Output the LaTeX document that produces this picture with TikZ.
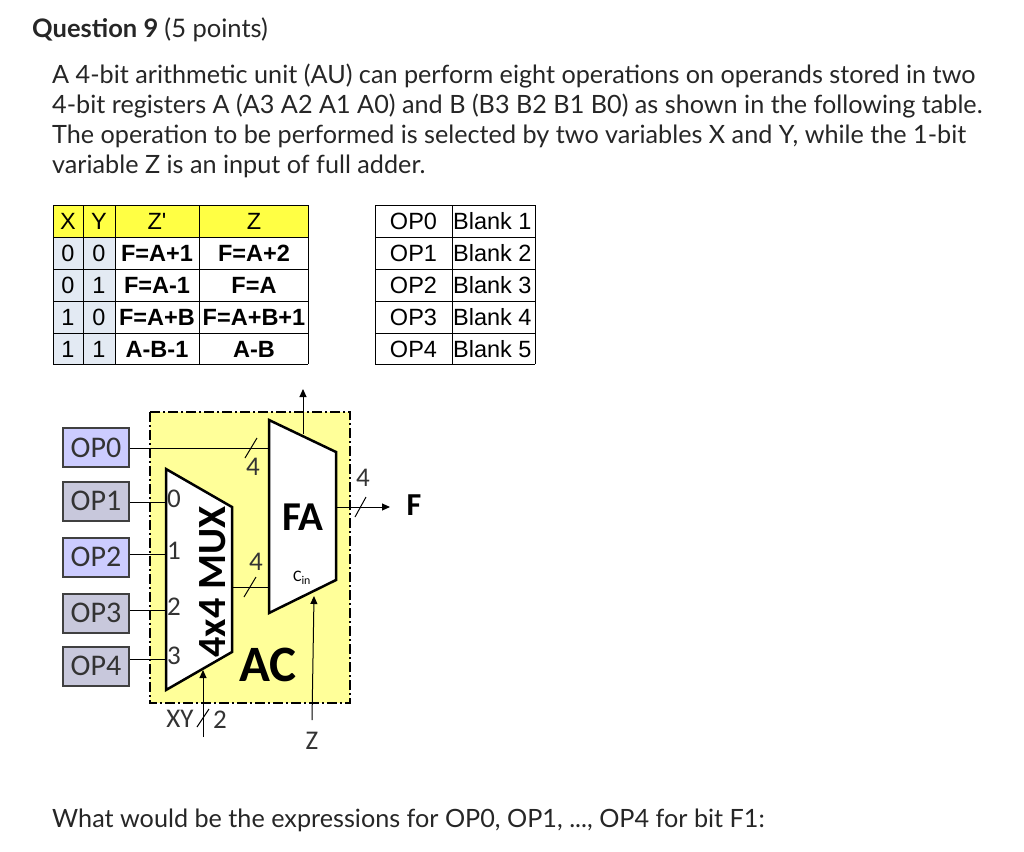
\documentclass[tikz,border=0pt]{standalone}
\usepackage{fontspec}
\setmainfont{Lato}
\newfontfamily\arial{Liberation Sans}
\newfontfamily\carl{Carlito}
\usetikzlibrary{arrows.meta}
\definecolor{yel}{HTML}{FFFF99}
\definecolor{hdr}{HTML}{FFFF44}
\definecolor{xyb}{HTML}{E3EAF3}
\definecolor{opa}{HTML}{CCCCFF}
\definecolor{opb}{HTML}{C8C8DC}
\begin{document}
\begin{tikzpicture}[x=1pt,y=-1pt,
  txt/.style={anchor=west,inner sep=0,font=\fontsize{25.2}{30}\selectfont,text=black!85},
  ct/.style={font=\arial\fontsize{23.5}{26}\selectfont},
  cb/.style={font=\arial\bfseries\fontsize{23.5}{26}\selectfont},
  op/.style={draw=black!75,line width=2pt,minimum width=66pt,minimum height=39pt,inner sep=0,font=\carl\fontsize{30}{32}\selectfont,text=black!80},
  w/.style={line width=1pt},
  arr/.style={w,-{Triangle[length=8pt,width=7pt]}},
  lbl/.style={font=\carl\fontsize{27}{29}\selectfont,inner sep=0,text=black!80},
  ]
\useasboundingbox (0,0) rectangle (1024,851);
\fill[white] (0,0) rectangle (1024,851);
\node[txt,font=\bfseries\fontsize{25.5}{30}\selectfont] (title) at (32,30) {Question 9 \mdseries(5 points)};
\node[txt] (l1) at (52,76) {A 4-bit arithmetic unit (AU) can perform eight operations on operands stored in two};
\node[txt] (l2) at (52,106) {4-bit registers A (A3 A2 A1 A0) and B (B3 B2 B1 B0) as shown in the following table.};
\node[txt] (l3) at (52,136) {The operation to be performed is selected by two variables X and Y, while the 1-bit};
\node[txt] (l4) at (52,166) {variable Z is an input of full adder.};
\node[txt] (q) at (52,820) {What would be the expressions for OP0, OP1, ..., OP4 for bit F1:};
% table 1
\fill[hdr] (53,205) rectangle (308,237);
\fill[xyb] (53,237) rectangle (115,364);
\foreach \y in {205,237,269,301,333,364} \draw[line width=1pt] (53,\y) -- (308,\y);
\foreach \x in {53,83,115,199,308} \draw[line width=1pt] (\x,205) -- (\x,364);
\foreach \t [count=\i] in {X,0,0,1,1} \node[ct] (x\i) at (68,189+32*\i) {\t};
\foreach \t [count=\i] in {Y,0,1,0,1} \node[ct] (y\i) at (99,189+32*\i) {\t};
\node[ct] (zp1) at (157,221) {Z'};
\node[ct] (z1) at (254,221) {Z};
\foreach \t [count=\i from 2] in {F=A+1,F=A-1,F=A+B,A-B-1} \node[cb] (zp\i) at (157,189+32*\i) {\t};
\foreach \t [count=\i from 2] in {F=A+2,F=A,F=A+B+1,A-B} \node[cb] (z\i) at (254,189+32*\i) {\t};
% table 2
\foreach \y in {205,237,269,301,333,364} \draw[line width=1pt] (375,\y) -- (535,\y);
\foreach \x in {375,452,535} \draw[line width=1pt] (\x,205) -- (\x,364);
\foreach \i in {0,...,4} {
  \node[ct] (o\i) at (413.5,221+32*\i) {OP\i};
  \node[ct,anchor=west,inner sep=0] (b\i) at (453,221+32*\i) {Blank \the\numexpr\i+1\relax};
}
% diagram
\fill[yel] (150,412) rectangle (350,703);
\draw[line width=1.5pt,dash pattern=on 10pt off 3pt on 2pt off 3pt] (150,412) rectangle (350,703);
\node[op,fill=opa] (op0) at (96,447.5) {OP0};
\node[op,fill=opb] (op1) at (96,501) {OP1};
\node[op,fill=opa] (op2) at (96,557) {OP2};
\node[op,fill=opb] (op3) at (96,613) {OP3};
\node[op,fill=opb] (op4) at (96,666) {OP4};
\draw[line width=2.5pt,fill=white] (166,469) -- (232,507) -- (232,652) -- (166,690) -- cycle;
\draw[line width=2.5pt,fill=white] (269,420) -- (336,452) -- (336,580) -- (269,613) -- cycle;
\coordinate (m0) at (166,502); \coordinate (m1) at (166,554);
\coordinate (m2) at (166,610); \coordinate (m3) at (166,659);
\draw[w] (op1.east |- m0) -- (m0);
\draw[w] (op2.east |- m1) -- (m1);
\draw[w] (op3.east |- m2) -- (m2);
\draw[w] (op4.east |- m3) -- (m3);
\foreach \i/\y in {0/502,1/554,2/610,3/659} \node[lbl,anchor=west] (n\i) at (167,\y-3) {\i};
\node[font=\carl\bfseries\fontsize{40}{42}\selectfont,rotate=90,inner sep=0] (mux) at (213,582) {4x4 MUX};
\coordinate (fa0) at (269,448); \coordinate (fa1) at (269,587);
\draw[w] (op0.east |- fa0) -- (fa0);
\draw[w] (232,587) -- (fa1);
\draw[w] (245,458) -- (257,438);
\draw[w] (244,597) -- (256,577);
\node[lbl] (l4a) at (253,467) {4};
\node[lbl] (l4b) at (256,562) {4};
\node[font=\carl\bfseries\fontsize{41}{43}\selectfont,inner sep=0] (fa) at (303,517) {FA};
\node[font=\carl\fontsize{16}{17}\selectfont,inner sep=0] (cin) at (302,578) {C$_{\mathrm{in}}$};
\coordinate (co) at (303,434); \coordinate (cotop) at (303,389);
\draw[arr] (co) -- (cotop);
\coordinate (fo) at (336,507); \node[font=\carl\bfseries\fontsize{32}{34}\selectfont,inner sep=0] (F) at (414,505) {F};
\draw[arr] (fo) -- (390,507);
\draw[w] (355,517) -- (366,497);
\node[lbl] (l4c) at (363,478) {4};
\coordinate (zs) at (312,720); \coordinate (ze) at (314,596);
\draw[arr] (zs) -- (ze);
\node[lbl] (Z) at (312,741) {Z};
\coordinate (xs) at (203,737); \coordinate (xe) at (203,670);
\draw[arr] (xs) -- (xe);
\draw[w] (197,727) -- (209,709);
\node[lbl] (XY) at (180,719) {XY};
\node[lbl] (two) at (220,720) {2};
\node[font=\carl\bfseries\fontsize{51}{53}\selectfont,inner sep=0] (AC) at (268,665) {AC};
\end{tikzpicture}
\end{document}
